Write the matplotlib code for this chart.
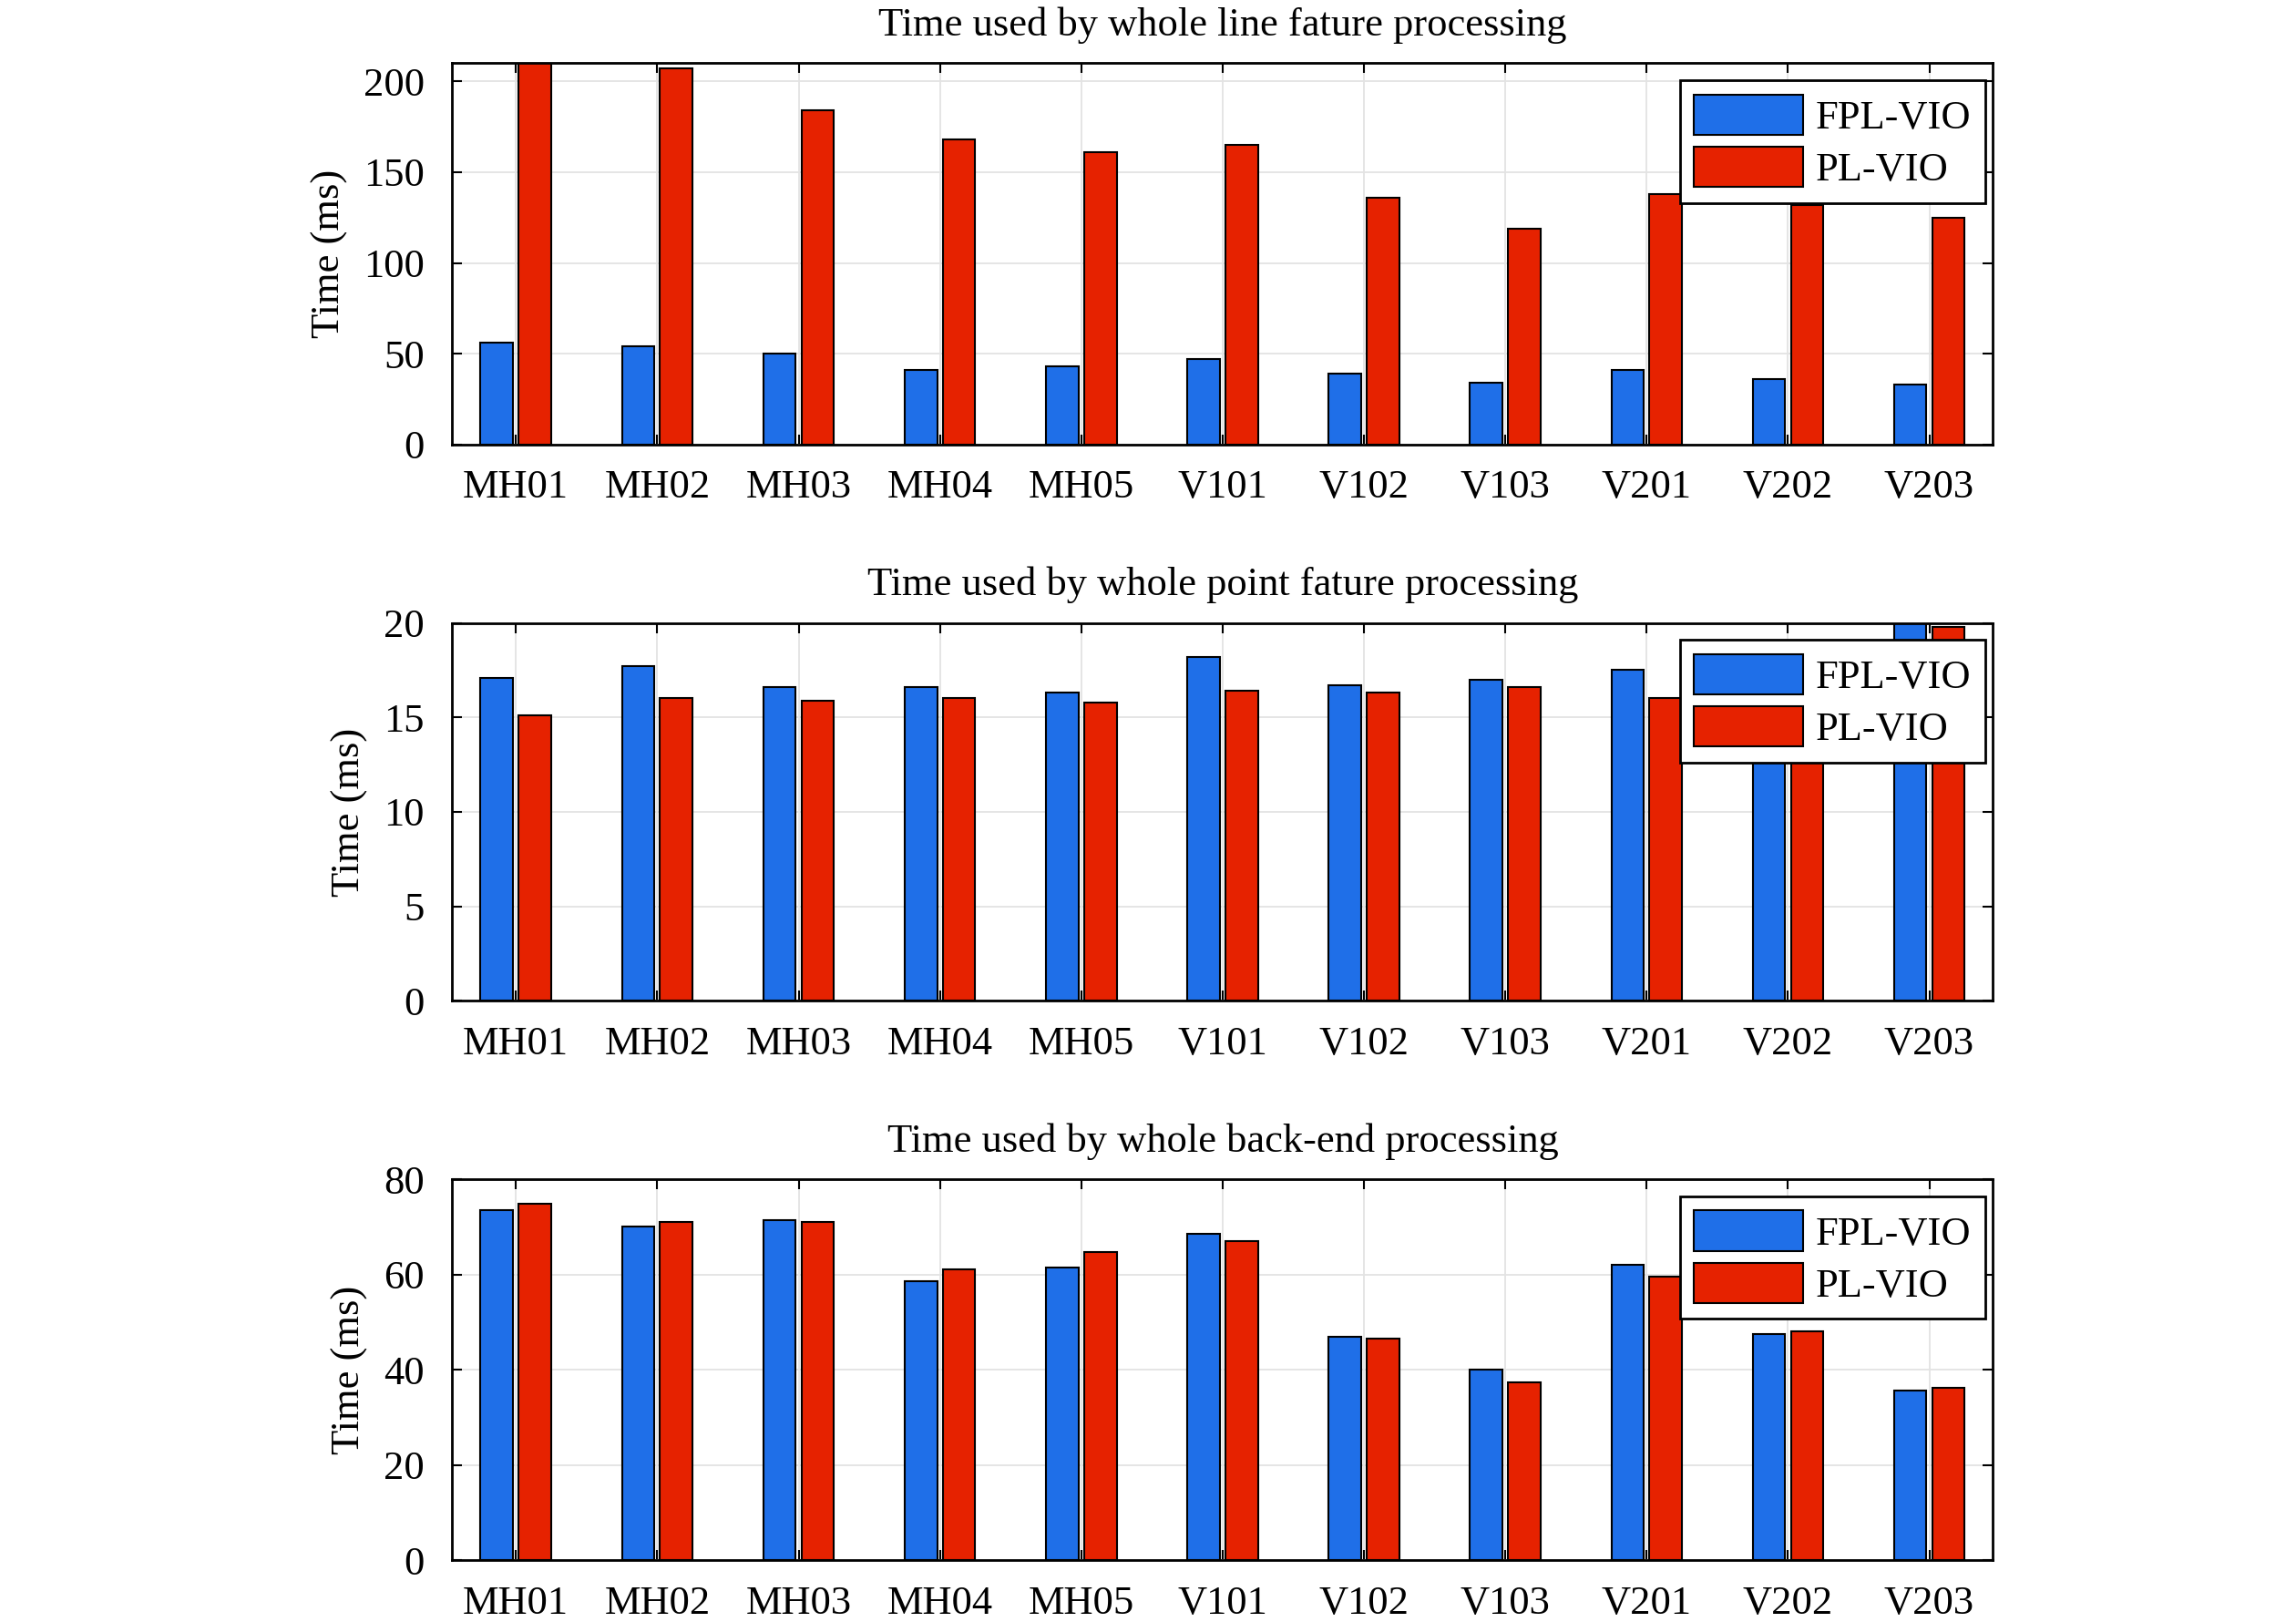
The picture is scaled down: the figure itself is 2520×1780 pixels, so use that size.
import numpy as np
import matplotlib
matplotlib.use("Agg")
from matplotlib import pyplot as plt

plt.rcParams['font.family'] = ['Liberation Serif', 'DejaVu Serif']

datasets = ["MH01", "MH02", "MH03", "MH04", "MH05", "V101", "V102", "V103", "V201", "V202", "V203"]

# line feature processing (ms)
line_fpl = [56, 54, 50, 41, 43, 47, 39, 34, 41, 36, 33]
line_pl = [215, 207, 184, 168, 161, 165, 136, 119, 138, 132, 125]

# point feature processing (ms)
point_fpl = [17.1, 17.7, 16.6, 16.6, 16.3, 18.2, 16.7, 17.0, 17.5, 19.0, 20.5]
point_pl = [15.1, 16.0, 15.9, 16.0, 15.8, 16.4, 16.3, 16.6, 16.0, 18.5, 19.8]

# back-end processing (ms)
back_fpl = [73.5, 70.0, 71.5, 58.5, 61.5, 68.5, 47.0, 40.0, 62.0, 47.5, 35.7]
back_pl = [74.8, 71.0, 71.0, 61.0, 64.7, 67.0, 46.5, 37.3, 59.5, 48.0, 36.3]

titles = ["Time used by whole line fature processing",
          "Time used by whole point fature processing",
          "Time used by whole back-end processing"]
ylims = [210, 20, 80]
yticks = [np.arange(0, 201, 50), np.arange(0, 21, 5), np.arange(0, 81, 20)]

blue = '#1f6fe8'
red = '#e62200'

fig = plt.figure(figsize=(25.2, 17.8), dpi=100)
boxes = [(0.197, 0.726, 0.671, 0.235),
         (0.197, 0.383, 0.671, 0.233),
         (0.197, 0.038, 0.671, 0.235)]

x = np.arange(len(datasets))
w = 0.23
off = 0.135
series = [(line_fpl, line_pl), (point_fpl, point_pl), (back_fpl, back_pl)]

for i, (fpl, pl) in enumerate(series):
    ax = fig.add_axes(boxes[i])
    ax.set_axisbelow(True)
    ax.grid(True, color='#e3e3e3', linewidth=1.3)
    ax.bar(x - off, fpl, w, color=blue, edgecolor='black', linewidth=1.5, label='FPL-VIO')
    ax.bar(x + off, pl, w, color=red, edgecolor='black', linewidth=1.5, label='PL-VIO')
    ax.set_xlim(-0.45, 10.45)
    ax.set_ylim(0, ylims[i])
    ax.set_yticks(yticks[i])
    ax.set_xticks(x)
    ax.set_xticklabels(datasets)
    ax.tick_params(axis='both', labelsize=32, direction='in', length=8, width=1.5,
                   top=True, right=True)
    ax.tick_params(axis='x', pad=20)
    ax.tick_params(axis='y', pad=22)
    for s in ax.spines.values():
        s.set_linewidth(2)
    ax.set_ylabel("Time (ms)", fontsize=32, labelpad=12)
    ax.set_title(titles[i], fontsize=32, pad=22)
    lg = ax.legend(loc='upper right', fontsize=32, fancybox=False, framealpha=1,
                   edgecolor='black', handlelength=2.7, handleheight=1.15,
                   borderaxespad=0, handletextpad=0.3, labelspacing=0.25,
                   borderpad=0.35, bbox_to_anchor=(0.995, 0.955))
    lg.get_frame().set_linewidth(2)

fig.savefig("out.png", dpi=100)
